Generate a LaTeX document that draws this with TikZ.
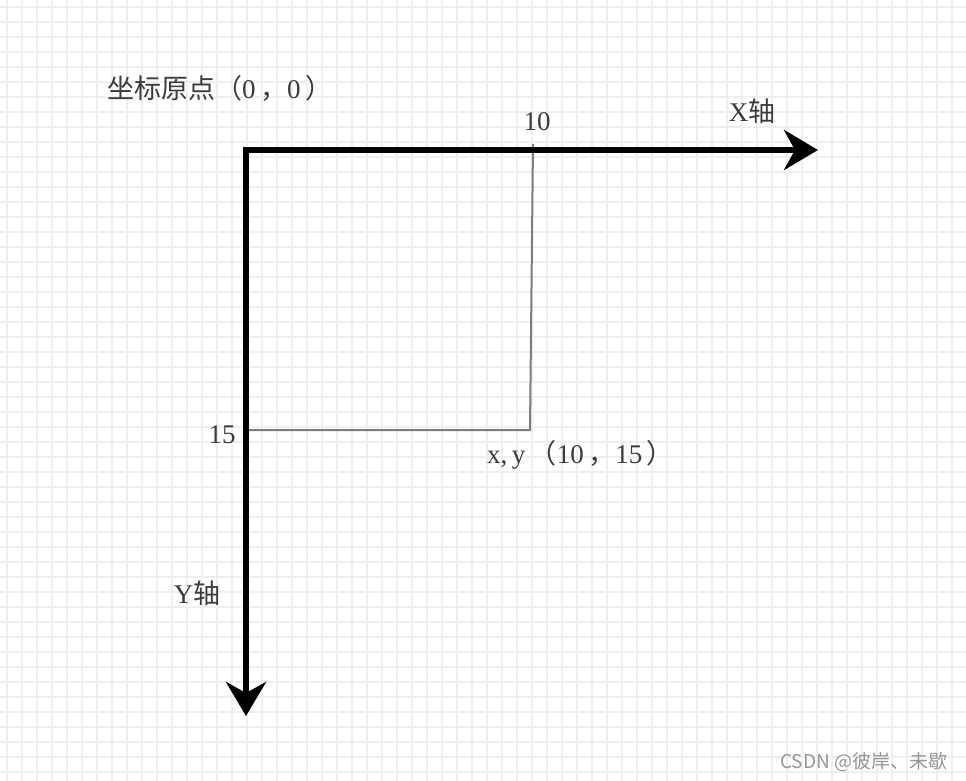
\documentclass[tikz,border=0pt]{standalone}
\usepackage{fontspec}
\setmainfont{Liberation Serif}
\newfontfamily\cjk{Noto Sans CJK SC}
\newcommand{\zh}[1]{{\cjk #1}}
\usetikzlibrary{arrows.meta}
\definecolor{gridc}{RGB}{239,239,239}
\definecolor{txtc}{RGB}{60,60,60}
\definecolor{thinc}{RGB}{125,125,125}
\definecolor{wmc}{RGB}{150,150,150}
\tikzset{
  gridline/.style={draw=gridc, line width=2pt},
  axis/.style={draw=black, line width=6pt, line join=miter,
    {Stealth[length=34pt,width=40pt,inset=11pt]}-{Stealth[length=34pt,width=40pt,inset=11pt]}},
  guide/.style={draw=thinc, line width=2pt, line join=miter},
  lbl/.style={text=txtc, inner sep=0pt, font=\fontsize{27}{31}\selectfont},
  wm/.style={text=wmc, inner sep=0pt, font=\cjk\fontsize{19}{22}\selectfont}
}
\begin{document}
\begin{tikzpicture}[x=1pt,y=-1pt]
\fill[white] (0,0) rectangle (966,781);
\useasboundingbox (0,0) rectangle (966,781);
% grid
\foreach \i in {0,...,64} {\draw[gridline] (7+15*\i,0) -- (7+15*\i,781);}
\foreach \j in {0,...,51} {\draw[gridline] (0,7+15*\j) -- (966,7+15*\j);}
% coordinates
\coordinate (O) at (246,150);
\coordinate (xend) at (818,150);
\coordinate (yend) at (246,716);
\coordinate (p10) at (533,144);
\coordinate (p) at (530,430);
\coordinate (p15) at (248,430);
% guides
\draw[guide] (p10) -- (p) -- (p15);
% axes
\draw[axis] (xend) -- (O) -- (yend);
% labels
\node[lbl, anchor=west] (orig) at (107,88) {\zh{坐标原点（}0\,\zh{，}0\,\zh{）}};
\node[lbl] (t10) at (537,122) {10};
\node[lbl] (xl) at (752,111) {X\zh{轴}};
\node[lbl] (t15) at (222,435) {15};
\node[lbl, anchor=west] (pt) at (487,455) {x,\,y\,\zh{（}10\,\zh{，}15\,\zh{）}};
\node[lbl] (yl) at (197,593) {Y\zh{轴}};
\node[wm, anchor=west] (wmk) at (780,762) {CSDN @彼岸、未歇};
\end{tikzpicture}
\end{document}
